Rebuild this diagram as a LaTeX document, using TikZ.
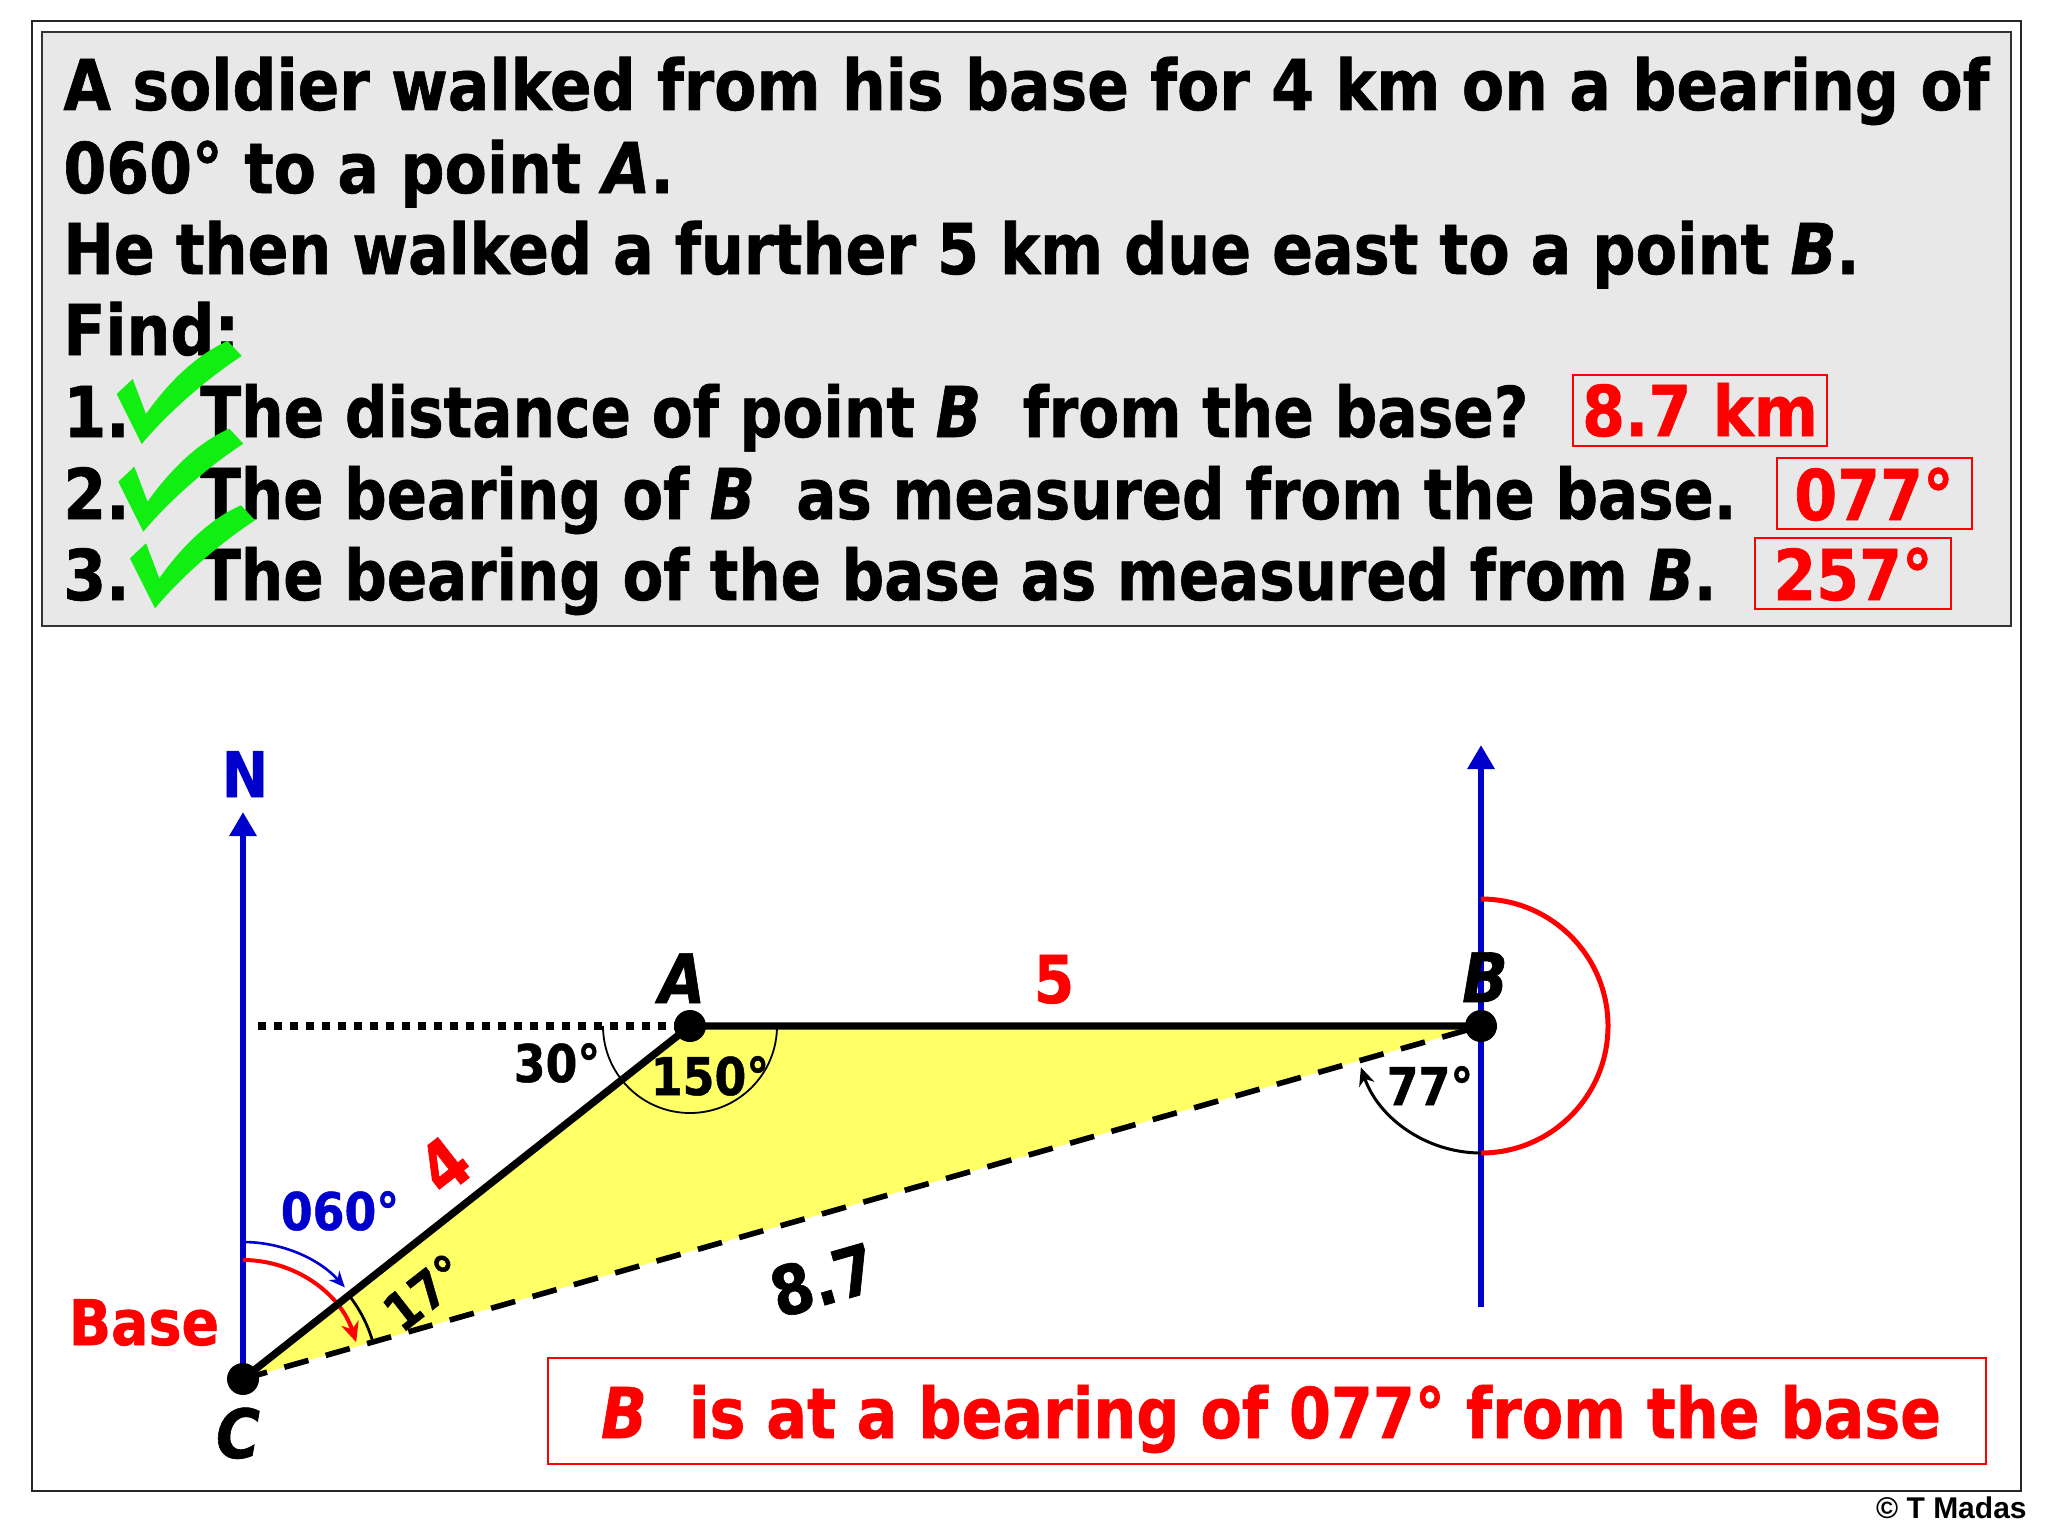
\documentclass[tikz,border=0pt]{standalone}
\usepackage{fontspec}
\usepackage{graphicx}
\setmainfont{DejaVu Sans}[FakeStretch=0.88,BoldFeatures={FakeBold=0.9},BoldItalicFeatures={FakeBold=0.9}]
\newfontfamily\cpfont{Liberation Sans}
\usetikzlibrary{arrows.meta}
\definecolor{boxgray}{RGB}{232,232,232}
\definecolor{myred}{RGB}{255,0,0}
\definecolor{myblue}{RGB}{0,0,204}
\definecolor{mygreen}{RGB}{17,238,17}
\definecolor{myyellow}{RGB}{255,255,102}
\newcommand\fitw[2]{\resizebox{#1}{\height}{#2}}
\begin{document}
\begin{tikzpicture}[x=0.5pt,y=-0.5pt,
  main/.style={inner sep=0,anchor=base west,font=\bfseries\fontsize{35}{40}\selectfont},
  ans/.style={inner sep=0,anchor=base,text=myred,font=\bfseries\fontsize{35}{40}\selectfont},
  lab/.style={inner sep=0,anchor=base,font=\bfseries\fontsize{26}{30}\selectfont},
  ptlab/.style={inner sep=0,anchor=base,font=\bfseries\itshape\fontsize{34}{40}\selectfont},
  dot/.style={circle,fill=black,inner sep=0,minimum size=16pt},
  ansbox/.style={draw=myred,line width=1.1pt},
  chk/.pic={\fill[mygreen] (0,0) -- (-25,-50) -- (-9,-65) -- (4.3,-30)
      .. controls (24,-58) and (52,-88) .. (86,-103) -- (100,-88)
      .. controls (72,-70) and (30,-36) .. cycle;}
]
\useasboundingbox (0,0) rectangle (2048,1536);
\fill[white] (0,0) rectangle (2048,1536);
% frames
\draw[black!85,line width=1pt] (32,21) rectangle (2021,1491);
\draw[black!80,line width=1pt,fill=boxgray] (42,32) rectangle (2011,626);

% problem text
\node[main] (l1) at (63,110) {\fitw{963pt}{A soldier walked from his base for 4 km on a bearing of}};
\node[main] (l2) at (63,193) {060° to a point \textit{A}.};
\node[main] (l3) at (63,274) {\fitw{898pt}{He then walked a further 5 km due east to a point \textit{B}.}};
\node[main] (l4) at (63,355) {Find:};
\node[main] (n1) at (63,437) {1.};
\node[main] (q1) at (200,437) {\fitw{664pt}{The distance of point \textit{B}\ \ from the base?}};
\node[main] (n2) at (63,519) {2.};
\node[main] (q2) at (200,519) {\fitw{768pt}{The bearing of \textit{B}\ \ as measured from the base.}};
\node[main] (n3) at (63,600) {3.};
\node[main] (q3) at (200,600) {\fitw{758pt}{The bearing of the base as measured from \textit{B}.}};

% answers
\draw[ansbox] (1573,375) rectangle (1827,446);
\node[ans] (a1) at (1700,436) {8.7 km};
\draw[ansbox] (1777,458) rectangle (1972,529);
\node[ans] (a2) at (1874,520) {077°};
\draw[ansbox] (1755,538) rectangle (1951,609);
\node[ans] (a3) at (1853,600) {257°};

% check marks
\pic at (141.7,444) {chk};
\pic at (143.3,531.7) {chk};
\pic at (155,608.3) {chk};

% diagram points
\coordinate (C) at (243,1379);
\coordinate (A) at (690,1026);
\coordinate (B) at (1481,1026);
\coordinate (Ntop) at (243,812);
\coordinate (Btop) at (1481,745);
\coordinate (Bbot) at (1481,1307);
\coordinate (Dst) at (258,1026);

\fill[myyellow] (C) -- (A) -- (B) -- cycle;

% north lines
\draw[myblue,line width=3pt,-{Triangle[length=12pt,width=13pt]}] (C) -- (Ntop);
\draw[myblue,line width=3pt,-{Triangle[length=12pt,width=13pt]}] (Bbot) -- (Btop);

% dotted line
\draw[line width=4pt,dash pattern=on 4pt off 4pt] (Dst) -- (A);

% angle arcs
\draw[line width=0.9pt] ([shift={(180:87)}]A) arc[start angle=180,end angle=0,radius=87];
\draw[line width=1.4pt] ([shift={(-38.3:135)}]C) arc[start angle=-38.3,end angle=-15.9,radius=135];
\draw[myblue,line width=1.3pt,-{Stealth[length=8pt,width=7pt]}] ([shift={(-90:137)}]C) arc[start angle=-90,end angle=-42,radius=137];
\draw[myred,line width=2pt,-{Stealth[length=10pt,width=9pt]}] ([shift={(-90:119)}]C) arc[start angle=-90,end angle=-18,radius=119];
\draw[myred,line width=2.5pt] ([shift={(-90:127)}]B) arc[start angle=-90,end angle=90,radius=127];
\draw[black,line width=1.5pt,-{Stealth[length=9pt,width=8pt,fill=myred]}] ([shift={(90:127)}]B) arc[start angle=90,end angle=161,radius=127];

% triangle sides
\draw[line width=2.8pt,dash pattern=on 12.5pt off 9pt] (C) -- (B);
\draw[line width=3.7pt] (C) -- (A) -- (B);

% dots
\node[dot] (dC) at (C) {};
\node[dot] (dA) at (A) {};
\node[dot] (dB) at (B) {};

% labels
\node[inner sep=0,anchor=base,text=myblue,font=\bfseries\fontsize{31.5}{36}\selectfont] (N) at (245,797) {N};
\node[ptlab] (lA) at (682,1003) {A};
\node[ptlab] (lB) at (1485,1002) {B};
\node[ptlab] (lC) at (238,1458) {C};
\node[inner sep=0,anchor=base,text=myred,font=\bfseries\fontsize{33}{36}\selectfont] (l5) at (1054,1003) {5};
\node[lab] (t30) at (557,1082) {30°};
\node[lab] (t150) at (710,1095) {150°};
\node[lab] (t77) at (1430,1105) {77°};
\node[inner sep=0,anchor=base,text=myblue,font=\bfseries\fontsize{26}{30}\selectfont] (t60) at (340,1230) {060°};
\node[inner sep=0,anchor=base,text=myred,font=\bfseries\fontsize{31.5}{36}\selectfont] (base) at (144,1345) {Base};
\node[inner sep=0,rotate=38,font=\bfseries\fontsize{26}{30}\selectfont] (t17) at (424,1292) {17°};
\node[inner sep=0,rotate=38,text=myred,font=\bfseries\fontsize{35}{40}\selectfont] (l4km) at (444,1165) {4};
\node[inner sep=0,rotate=16,font=\bfseries\fontsize{34}{40}\selectfont] (l87) at (823,1280) {8.7};

% conclusion box
\draw[myred,line width=1pt] (548,1358) rectangle (1986,1464);
\node[ans] (concl) at (1271,1438) {\fitw{670pt}{\textit{B}\ \ is at a bearing of 077° from the base}};

% copyright
\node[inner sep=0,anchor=base east,font=\cpfont\bfseries\fontsize{15}{18}\selectfont] (cp) at (2027,1518) {© T Madas};
\end{tikzpicture}
\end{document}
